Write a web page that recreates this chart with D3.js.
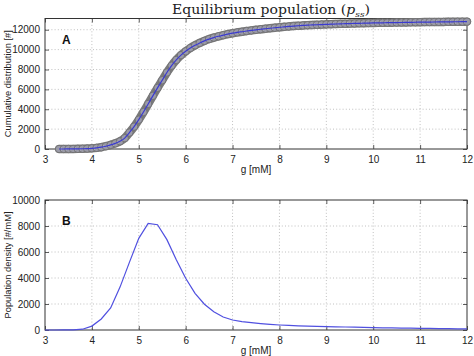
<!DOCTYPE html>
<html><head><meta charset="utf-8">
<script src="https://cdn.jsdelivr.net/npm/d3@7"></script>
<style>body{margin:0;background:#fff}svg{display:block}</style>
</head><body>
<script>
// Panel A: cumulative distribution (x in mM, values in #)
const cumX = [3.3,3.4,3.5,3.6,3.7,3.8,3.9,4.0,4.1,4.2,4.3,4.4,4.5,4.6,4.7,4.8,4.9,5.0,5.1,5.2,5.3,5.4,5.5,5.6,5.7,5.8,5.9,6.0,6.1,6.2,6.3,6.4,6.5,6.6,6.7,6.8,6.9,7.0,7.1,7.2,7.3,7.4,7.5,7.6,7.7,7.8,7.9,8.0,8.1,8.2,8.3,8.4,8.5,8.6,8.7,8.8,8.9,9.0,9.1,9.2,9.3,9.4,9.5,9.6,9.7,9.8,9.9,10.0,10.1,10.2,10.3,10.4,10.5,10.6,10.7,10.8,10.9,11.0,11.1,11.2,11.3,11.4,11.5,11.6,11.7,11.8,11.9,12.0];
const cumY = [0,2,4,8,14,24,40,70,115,180,280,410,570,770,1090,1650,2250,2950,3720,4530,5350,6150,6920,7700,8380,8960,9440,9830,10160,10430,10670,10880,11060,11210,11340,11450,11560,11650,11730,11800,11870,11930,11990,12050,12100,12150,12200,12250,12290,12330,12370,12400,12430,12460,12480,12500,12520,12540,12560,12575,12590,12605,12620,12635,12648,12660,12670,12680,12690,12698,12706,12714,12722,12730,12738,12745,12752,12760,12766,12772,12778,12784,12790,12795,12800,12805,12810,12815];
// Panel B: population density (#/mM)
const denX = [3.0,3.2,3.4,3.6,3.8,4.0,4.2,4.4,4.6,4.8,5.0,5.2,5.4,5.6,5.8,6.0,6.2,6.4,6.6,6.8,7.0,7.2,7.4,7.6,7.8,8.0,8.2,8.4,8.6,8.8,9.0,9.2,9.4,9.6,9.8,10.0,10.2,10.4,10.6,10.8,11.0,11.2,11.4,11.6,11.8,12.0];
const denY = [0,0,2,10,60,300,850,1700,3300,5200,7050,8200,8100,6950,5400,3980,2820,1980,1400,1000,770,640,560,490,430,385,350,320,300,280,260,245,230,215,195,180,170,160,150,140,130,120,110,100,90,80];
const xTicks = [3,4,5,6,7,8,9,10,11,12];
const yTicksA = [0,2000,4000,6000,8000,10000,12000];
const yTicksB = [0,2000,4000,6000,8000,10000];

const W = 474, H = 356;
const svg = d3.select("body").append("svg").attr("width", W).attr("height", H);
const font = "'Liberation Sans', Arial, sans-serif";
const fmt = d3.format("d");

function panel(opts){
  const {top, bottom, ymax, yTicks, ylabel, letter} = opts;
  const x = d3.scaleLinear().domain([3,12]).range([45,467]);
  const y = d3.scaleLinear().domain([0,ymax]).range([bottom, top]);
  const g = svg.append("g");
  g.selectAll(".gx").data(xTicks.slice(1,-1)).join("line")
    .attr("x1", d=>x(d)).attr("x2", d=>x(d)).attr("y1", top).attr("y2", bottom)
    .attr("stroke", "#b0b0b0").attr("stroke-width", 0.8).attr("stroke-dasharray", "1,2.2");
  g.selectAll(".gy").data(yTicks.filter(d=>d>0 && d<ymax)).join("line")
    .attr("x1", 45).attr("x2", 467).attr("y1", d=>y(d)).attr("y2", d=>y(d))
    .attr("stroke", "#b0b0b0").attr("stroke-width", 0.8).attr("stroke-dasharray", "1,2.2");
  const ax = g.append("g").attr("transform", `translate(0,${bottom})`)
    .call(d3.axisBottom(x).tickValues(xTicks).tickSizeInner(-4).tickSizeOuter(0).tickPadding(7).tickFormat(fmt));
  const axT = g.append("g").attr("transform", `translate(0,${top})`)
    .call(d3.axisTop(x).tickValues(xTicks).tickSizeInner(-4).tickSizeOuter(0).tickFormat(""));
  const ay = g.append("g").attr("transform", `translate(45,0)`)
    .call(d3.axisLeft(y).tickValues(yTicks).tickSizeInner(-4).tickSizeOuter(0).tickPadding(5).tickFormat(fmt));
  const ayR = g.append("g").attr("transform", `translate(467,0)`)
    .call(d3.axisRight(y).tickValues(yTicks).tickSizeInner(-4).tickSizeOuter(0).tickFormat(""));
  [ax,axT,ay,ayR].forEach(a=>{
    a.select(".domain").remove();
    a.selectAll("line").attr("stroke","#333").attr("stroke-width",0.8);
    a.selectAll("text").attr("font-family", font).attr("font-size", 10).attr("fill","#222");
  });
  g.append("rect").attr("x",45).attr("y",top).attr("width",422).attr("height",bottom-top)
    .attr("fill","none").attr("stroke","#333").attr("stroke-width",1);
  g.append("text").attr("transform", `translate(8,${(top+bottom)/2}) rotate(-90)`)
    .attr("text-anchor","middle").attr("dominant-baseline","central")
    .attr("font-family", font).attr("font-size", 9.3).attr("fill","#222").text(ylabel);
  g.append("text").attr("x", 256).attr("y", bottom+24).attr("text-anchor","middle")
    .attr("font-family", font).attr("font-size", 10).attr("fill","#222").text("g [mM]");
  g.append("text").attr("x", 62).attr("y", top+25)
    .attr("font-family", font).attr("font-size", 12).attr("font-weight","bold").attr("fill","#111").text(letter);
  return {g,x,y};
}

// Panel A
const A = panel({top:18.5, bottom:149, ymax:13130, yTicks:yTicksA, ylabel:"Cumulative distribution [#]", letter:"A"});
const cum = cumX.map((d,i)=>[d,cumY[i]]);
const lineA = d3.line().curve(d3.curveMonotoneX).x(d=>A.x(d[0])).y(d=>A.y(d[1]));
A.g.append("path").datum(cum).attr("d", lineA).attr("fill","none")
  .attr("stroke","#7a7a7a").attr("stroke-width",8.5).attr("stroke-linejoin","round").attr("stroke-linecap","round");
A.g.selectAll(".mk").data(cum).join("circle")
  .attr("cx", d=>A.x(d[0])).attr("cy", d=>A.y(d[1])).attr("r", 3.7)
  .attr("fill","#c4c4e0").attr("fill-opacity",0.45).attr("stroke","#6f6f6f").attr("stroke-width",0.9);
A.g.append("path").datum(cum).attr("d", lineA).attr("fill","none")
  .attr("stroke","#3a3ad0").attr("stroke-width",1.2);

// Panel B
const B = panel({top:200, bottom:330, ymax:10000, yTicks:yTicksB, ylabel:"Population density [#/mM]", letter:"B"});
const den = denX.map((d,i)=>[d,denY[i]]);
B.g.append("path").datum(den).attr("d", d3.line().x(d=>B.x(d[0])).y(d=>B.y(d[1])))
  .attr("fill","none").attr("stroke","#5050e0").attr("stroke-width",1.2);

// Title
const t = svg.append("text").attr("x", 271).attr("y", 14).attr("text-anchor","middle")
  .attr("font-family","'DejaVu Serif', 'Liberation Serif', serif").attr("font-size", 12.5).attr("fill","#222")
  .attr("textLength", 198).attr("lengthAdjust","spacingAndGlyphs");
t.append("tspan").text("Equilibrium population (");
t.append("tspan").attr("font-style","italic").text("p");
t.append("tspan").attr("font-style","italic").attr("font-size",8).attr("dy",3).text("ss");
t.append("tspan").attr("dy",-3).text(")");
</script>
</body></html>
